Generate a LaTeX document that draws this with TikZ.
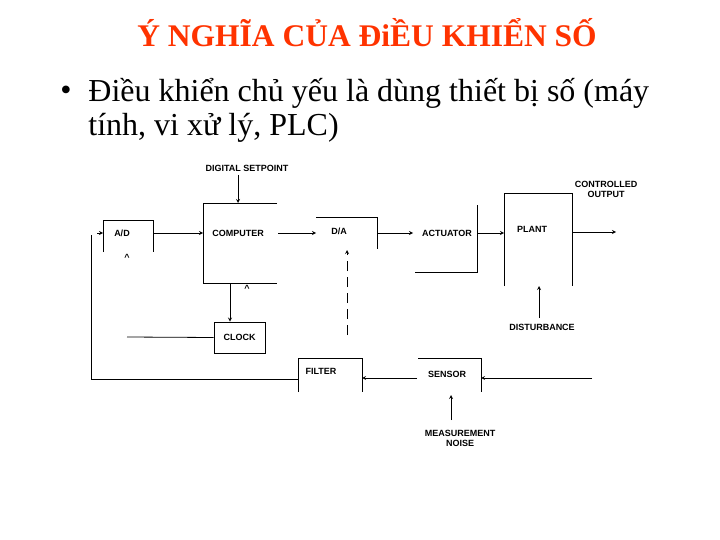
\documentclass[tikz,border=0pt]{standalone}
\usepackage{fontspec}
\setmainfont{Liberation Serif}
\newfontfamily\lab{Liberation Sans}
\begin{document}
\begin{tikzpicture}[x=1pt,y=-1pt,>=stealth,line width=0.8pt,
  lbl/.style={font=\lab\bfseries\fontsize{9}{10}\selectfont,inner sep=0pt},
  arr/.style={->}]
\useasboundingbox (0,0) rectangle (720,540);
\node[font=\bfseries\fontsize{31.5}{34}\selectfont,text={rgb,255:red,255;green,51;blue,0}] (title) at (367,33) {Ý NGHĨA CỦA ĐiỀU KHIỂN SỐ};
\node[font=\fontsize{32}{34}\selectfont,anchor=west,inner sep=0pt] (bul) at (60,93) {•};
\node[font=\fontsize{32}{34}\selectfont,anchor=west,inner sep=0pt] (l1) at (88,93) {Điều khiển chủ yếu là dùng thiết bị số (máy};
\node[font=\fontsize{32}{34}\selectfont,anchor=west,inner sep=0pt] (l2) at (88,128) {tính, vi xử lý, PLC)};
% A/D
\draw (103,252) -- (103,220) -- (153,220) -- (153,252);
\node[lbl] (ad) at (122,233) {A/D};
\node[lbl] (adc) at (127,257) {\textasciicircum};
% computer
\draw (277,203) -- (203,203) -- (203,283) -- (277,283);
\node[lbl] (comp) at (238,233) {COMPUTER};
\node[lbl] (compc) at (247,288) {\textasciicircum};
\node[lbl] (dsp) at (247,168) {DIGITAL SETPOINT};
\coordinate (dsa) at (238,175); \coordinate (dsb) at (238,203);
\draw[arr] (dsa) -- (dsb);
\coordinate (adr) at (153,233); \coordinate (cl) at (203,233);
\draw[arr] (adr) -- (cl);
% D/A
\draw (316,217) -- (377,217) -- (377,249);
\node[lbl] (da) at (339,231) {D/A};
\coordinate (cr) at (278,233); \coordinate (dal) at (316,233);
\draw[arr] (cr) -- (dal);
\coordinate (dsh1) at (347,335); \coordinate (dsh2) at (347,250);
\draw[arr,dash pattern=on 10pt off 6pt] (dsh1) -- (dsh2);
% actuator
\draw (415,272) -- (477,272) -- (477,205);
\node[lbl] (act) at (447,233) {ACTUATOR};
\coordinate (dar) at (377,233); \coordinate (actl) at (413,233);
\draw[arr] (dar) -- (actl);
% plant
\draw (504,286) -- (504,193) -- (572,193) -- (572,286);
\node[lbl] (pl) at (532,229) {PLANT};
\coordinate (actr) at (477,233); \coordinate (pll) at (504,233);
\draw[arr] (actr) -- (pll);
\coordinate (plr) at (572,232); \coordinate (out) at (616,232);
\draw[arr] (plr) -- (out);
\node[lbl,align=center] (co) at (606,189) {CONTROLLED\\OUTPUT};
\node[lbl] (dist) at (542,327) {DISTURBANCE};
\coordinate (d1) at (539,318); \coordinate (d2) at (539,286);
\draw[arr] (d1) -- (d2);
% clock
\node[draw,minimum width=51pt,minimum height=31pt,inner sep=0pt,font=\lab\bfseries\fontsize{9}{10}\selectfont] (clk) at (239.5,337.5) {CLOCK};
\coordinate (cb) at (230,283);
\draw[arr] (cb) -- (cb |- clk.north);
\coordinate (cll) at (127,337);
\draw (cll) -- (clk.west);
% sensor
\draw (418,358) -- (481,358) -- (481,392);
\node[lbl] (sen) at (447,374) {SENSOR};
\coordinate (sr) at (592,378); \coordinate (sri) at (481,378);
\draw[arr] (sr) -- (sri);
\coordinate (n1) at (451,420); \coordinate (n2) at (451,395);
\draw[arr] (n1) -- (n2);
\node[lbl,align=center] (noise) at (460,438) {MEASUREMENT\\NOISE};
% filter
\draw (298,392) -- (298,358) -- (362,358) -- (362,392);
\node[lbl] (fil) at (321,371) {FILTER};
\coordinate (sl) at (417,378); \coordinate (fr) at (362,378);
\draw[arr] (sl) -- (fr);
\coordinate (fl) at (298,379); \coordinate (fb) at (91,379); \coordinate (ft) at (91,235);
\draw (fl) -- (fb) -- (ft);
\coordinate (ai1) at (97,233); \coordinate (ai2) at (103,233);
\draw[arr] (ai1) -- (ai2);
\end{tikzpicture}
\end{document}
